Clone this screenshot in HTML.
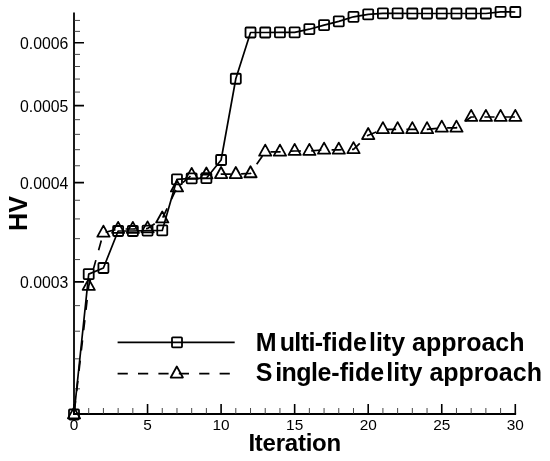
<!DOCTYPE html>
<html lang="en"><head><meta charset="utf-8"><title>HV vs Iteration</title>
<style>html,body{margin:0;padding:0;background:#fff}body{width:550px;height:461px;overflow:hidden}</style>
</head><body>
<svg width="550" height="461" viewBox="0 0 550 461" style="display:block">
<rect width="550" height="461" fill="#fff"/>
<g stroke="#000" fill="none">
<path d="M74.0 12.5V414.9" stroke-width="1.8"/>
<path d="M73.0 414.0H516.1" stroke-width="1.8"/>
<path d="M74.00 414.0v-10M147.55 414.0v-10M221.10 414.0v-10M294.65 414.0v-10M368.20 414.0v-10M441.75 414.0v-10M515.30 414.0v-10" stroke-width="1.6"/>
<path d="M88.71 414.0v-6M103.42 414.0v-6M118.13 414.0v-6M132.84 414.0v-6M162.26 414.0v-6M176.97 414.0v-6M191.68 414.0v-6M206.39 414.0v-6M235.81 414.0v-6M250.52 414.0v-6M265.23 414.0v-6M279.94 414.0v-6M309.36 414.0v-6M324.07 414.0v-6M338.78 414.0v-6M353.49 414.0v-6M382.91 414.0v-6M397.62 414.0v-6M412.33 414.0v-6M427.04 414.0v-6M456.46 414.0v-6M471.17 414.0v-6M485.88 414.0v-6M500.59 414.0v-6" stroke-width="0.9" stroke="#333"/>
<path d="M74.0 281.84h10M74.0 182.59h10M74.0 105.60h10M74.0 42.70h10" stroke-width="1.6"/>
<path d="M74.0 388.84h6M74.0 358.82h6M74.0 331.21h6M74.0 305.64h6M74.0 259.57h6M74.0 238.65h6M74.0 218.93h6M74.0 200.28h6M74.0 165.75h6M74.0 149.70h6M74.0 134.37h6M74.0 119.68h6M74.0 92.07h6M74.0 79.05h6M74.0 66.50h6M74.0 54.40h6M74.0 31.39h6M74.0 20.43h6" stroke-width="0.9" stroke="#333"/>
</g>
<g font-family="&quot;Liberation Sans&quot;, sans-serif" font-size="15.8" fill="#000">
<text x="74.00" y="430.3" font-size="15.4" text-anchor="middle">0</text>
<text x="147.55" y="430.3" font-size="15.4" text-anchor="middle">5</text>
<text x="221.10" y="430.3" font-size="15.4" text-anchor="middle">10</text>
<text x="294.65" y="430.3" font-size="15.4" text-anchor="middle">15</text>
<text x="368.20" y="430.3" font-size="15.4" text-anchor="middle">20</text>
<text x="441.75" y="430.3" font-size="15.4" text-anchor="middle">25</text>
<text x="515.30" y="430.3" font-size="15.4" text-anchor="middle">30</text>
<text x="68.3" y="288.34" text-anchor="end">0.0003</text>
<text x="68.3" y="189.09" text-anchor="end">0.0004</text>
<text x="68.3" y="112.10" text-anchor="end">0.0005</text>
<text x="68.3" y="49.20" text-anchor="end">0.0006</text>
</g>
<g font-family="&quot;Liberation Sans&quot;, sans-serif" font-weight="bold" font-size="23.5" fill="#000">
<text x="248.4" y="451.1" font-size="24" textLength="92.8" lengthAdjust="spacing">Iteration</text>
<text transform="translate(27.2 231.0) rotate(-90)" font-size="25.2">HV</text>
<text x="255.8" y="350.6" font-size="25" dx="0 3 -0.6 -0.6 -0.6 -0.6 -0.6 0 0 0 2">Multi-fidelity approach</text>
<text x="255.8" y="381.2" font-size="25" dx="0 2.7 -0.54 -0.54 -0.54 -0.54 -0.04 0 0 0 0 2.2">Single-fidelity approach</text>
</g>
<g stroke="#000" fill="none" stroke-linejoin="round">
<polyline points="74.00,414.50 88.71,286.00 103.42,232.80 118.13,229.00 132.84,229.00 147.55,228.50 162.26,218.60 176.97,187.60 191.68,175.00 206.39,174.60 221.10,174.20 235.81,174.20 250.52,173.40 265.23,151.80 279.94,151.80 294.65,151.00 309.36,151.00 324.07,149.80 338.78,149.80 353.49,149.30 368.20,135.20 382.91,129.30 397.62,129.30 412.33,129.30 427.04,129.30 441.75,127.80 456.46,127.80 471.17,117.00 485.88,117.00 500.59,117.00 515.30,117.00" stroke-width="1.7" stroke-dasharray="10.2 10.2" stroke-dashoffset="-3.2"/>
<polyline points="74.00,414.50 88.71,274.10 103.42,268.00 118.13,231.00 132.84,231.00 147.55,230.60 162.26,230.40 176.97,179.30 191.68,178.40 206.39,178.20 221.10,160.00 235.81,78.75 250.52,32.50 265.23,32.50 279.94,32.30 294.65,32.30 309.36,29.20 324.07,25.10 338.78,21.40 353.49,16.80 368.20,14.40 382.91,13.40 397.62,13.40 412.33,13.50 427.04,13.50 441.75,13.50 456.46,13.50 471.17,13.50 485.88,13.50 500.59,11.80 515.30,12.00" stroke-width="1.7"/>
<path d="M74.00 407.35L80.10 418.35H67.90ZM88.71 278.85L94.81 289.85H82.61ZM103.42 225.65L109.52 236.65H97.32ZM118.13 221.85L124.23 232.85H112.03ZM132.84 221.85L138.94 232.85H126.74ZM147.55 221.35L153.65 232.35H141.45ZM162.26 211.45L168.36 222.45H156.16ZM176.97 180.45L183.07 191.45H170.87ZM191.68 167.85L197.78 178.85H185.58ZM206.39 167.45L212.49 178.45H200.29ZM221.10 167.05L227.20 178.05H215.00ZM235.81 167.05L241.91 178.05H229.71ZM250.52 166.25L256.62 177.25H244.42ZM265.23 144.65L271.33 155.65H259.13ZM279.94 144.65L286.04 155.65H273.84ZM294.65 143.85L300.75 154.85H288.55ZM309.36 143.85L315.46 154.85H303.26ZM324.07 142.65L330.17 153.65H317.97ZM338.78 142.65L344.88 153.65H332.68ZM353.49 142.15L359.59 153.15H347.39ZM368.20 128.05L374.30 139.05H362.10ZM382.91 122.15L389.01 133.15H376.81ZM397.62 122.15L403.72 133.15H391.52ZM412.33 122.15L418.43 133.15H406.23ZM427.04 122.15L433.14 133.15H420.94ZM441.75 120.65L447.85 131.65H435.65ZM456.46 120.65L462.56 131.65H450.36ZM471.17 109.85L477.27 120.85H465.07ZM485.88 109.85L491.98 120.85H479.78ZM500.59 109.85L506.69 120.85H494.49ZM515.30 109.85L521.40 120.85H509.20Z" stroke-width="1.8"/>
<g stroke-width="1.8">
<rect x="69.00" y="409.50" width="10.0" height="10.0" rx="0.9"/>
<rect x="83.71" y="269.10" width="10.0" height="10.0" rx="0.9"/>
<rect x="98.42" y="263.00" width="10.0" height="10.0" rx="0.9"/>
<rect x="113.13" y="226.00" width="10.0" height="10.0" rx="0.9"/>
<rect x="127.84" y="226.00" width="10.0" height="10.0" rx="0.9"/>
<rect x="142.55" y="225.60" width="10.0" height="10.0" rx="0.9"/>
<rect x="157.26" y="225.40" width="10.0" height="10.0" rx="0.9"/>
<rect x="171.97" y="174.30" width="10.0" height="10.0" rx="0.9"/>
<rect x="186.68" y="173.40" width="10.0" height="10.0" rx="0.9"/>
<rect x="201.39" y="173.20" width="10.0" height="10.0" rx="0.9"/>
<rect x="216.10" y="155.00" width="10.0" height="10.0" rx="0.9"/>
<rect x="230.81" y="73.75" width="10.0" height="10.0" rx="0.9"/>
<rect x="245.52" y="27.50" width="10.0" height="10.0" rx="0.9"/>
<rect x="260.23" y="27.50" width="10.0" height="10.0" rx="0.9"/>
<rect x="274.94" y="27.30" width="10.0" height="10.0" rx="0.9"/>
<rect x="289.65" y="27.30" width="10.0" height="10.0" rx="0.9"/>
<rect x="304.36" y="24.20" width="10.0" height="10.0" rx="0.9"/>
<rect x="319.07" y="20.10" width="10.0" height="10.0" rx="0.9"/>
<rect x="333.78" y="16.40" width="10.0" height="10.0" rx="0.9"/>
<rect x="348.49" y="11.80" width="10.0" height="10.0" rx="0.9"/>
<rect x="363.20" y="9.40" width="10.0" height="10.0" rx="0.9"/>
<rect x="377.91" y="8.40" width="10.0" height="10.0" rx="0.9"/>
<rect x="392.62" y="8.40" width="10.0" height="10.0" rx="0.9"/>
<rect x="407.33" y="8.50" width="10.0" height="10.0" rx="0.9"/>
<rect x="422.04" y="8.50" width="10.0" height="10.0" rx="0.9"/>
<rect x="436.75" y="8.50" width="10.0" height="10.0" rx="0.9"/>
<rect x="451.46" y="8.50" width="10.0" height="10.0" rx="0.9"/>
<rect x="466.17" y="8.50" width="10.0" height="10.0" rx="0.9"/>
<rect x="480.88" y="8.50" width="10.0" height="10.0" rx="0.9"/>
<rect x="495.59" y="6.80" width="10.0" height="10.0" rx="0.9"/>
<rect x="510.30" y="7.00" width="10.0" height="10.0" rx="0.9"/>
</g>
<path d="M117.6 342.4H234.7" stroke-width="1.7"/>
<path d="M117.6 373.7H234.7" stroke-width="1.7" stroke-dasharray="10.2 10.2"/>
<g stroke-width="1.8"><rect x="172.00" y="337.30" width="10.0" height="10.0" rx="0.9"/></g>
<path d="M176.80 366.55L182.90 377.55H170.70Z" stroke-width="1.8"/>
</g>
</svg>
</body></html>
